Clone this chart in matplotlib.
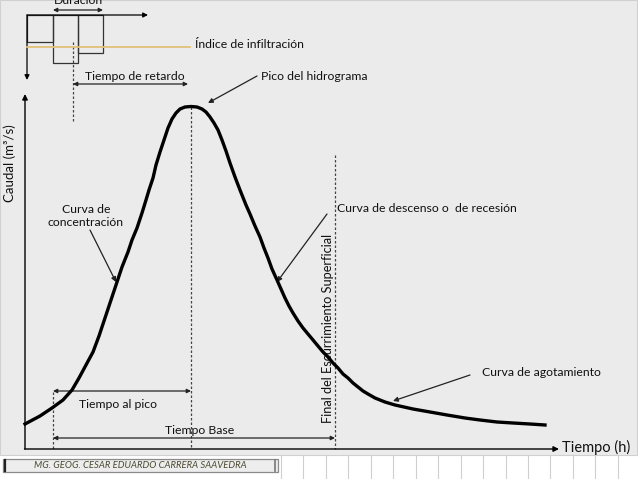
import matplotlib.pyplot as plt
from matplotlib.patches import Rectangle, FancyArrowPatch

# Diagram drawn in image pixel coordinates (x right, y down).
W, H = 638, 479

# Hydrograph curve points (x, y).
curve_x = [25, 40, 52, 63, 72, 79, 86, 93, 99, 105, 111, 117, 122, 128, 132, 137,
           142, 146, 149, 153, 156, 160, 164, 168, 172, 176, 180, 185, 191, 197,
           202, 206, 210, 214, 218, 222, 226, 230, 235, 240, 246, 250, 255, 260,
           264, 268, 272, 277, 281, 285, 289, 293, 298, 303, 308, 313, 318, 323,
           328, 333, 338, 343, 348, 353, 358, 363, 368, 375, 385, 395, 413, 430,
           447, 465, 480, 497, 513, 530, 545]
curve_y = [424, 416, 408, 400, 390, 378, 365, 352, 336, 318, 300, 282, 267, 252,
           240, 228, 213, 200, 190, 178, 165, 152, 140, 128, 119, 113, 109, 107,
           106.5, 107, 109, 112, 117, 123, 130, 140, 151, 163, 177, 190, 205, 214,
           226, 237, 248, 258, 269, 280, 289, 298, 306, 313, 321, 328, 334, 340,
           346, 352, 357, 363, 368, 374, 378, 383, 387, 391, 394, 398, 402, 405,
           409, 412, 415, 418, 420, 422, 423, 424, 425]

# Hyetograph bars: left, right, bottom (top is the rain axis line).
bar_left = [27, 53, 78]
bar_right = [53, 78, 103]
bar_bottom = [42, 63, 53]

# Dotted guide lines: x, y_top, y_bottom
guide_x = [73, 53, 191, 335]
guide_top = [42, 392, 107, 155]
guide_bottom = [122, 449, 449, 449]

# Double arrows: label, x0, x1, y
span_labels = ["Duración", "Tiempo de retardo", "Tiempo al pico", "Tiempo Base"]
span_x0 = [53, 73, 53, 53]
span_x1 = [103, 188, 191, 335]
span_y = [10, 84, 391, 438]
span_text_xy = [(78, 0), (135, 76), (118, 404), (200, 431)]

# Annotations with a single arrow: text, text position, arrow tail, arrow head
notes = ["Pico del hidrograma", "Curva de\nconcentración",
         "Curva de descenso o  de recesión", "Curva de agotamiento"]
note_xy = [(261, 76), (86, 216), (337, 208), (482, 373)]
note_ha = ["left", "center", "left", "left"]
tail_xy = [(257, 76), (90, 230), (327, 214), (470, 375)]
head_xy = [(208, 103), (116, 282), (277, 282), (393, 401)]

# Bottom footer grid lines
footer_lines = [281 + 22.45 * i for i in range(17)]

fig = plt.figure(figsize=(W / 100, H / 100), dpi=100)
ax = fig.add_axes([0, 0, 1, 1])
ax.set_xlim(0, W)
ax.set_ylim(H, 0)
ax.axis("off")
fig.patch.set_facecolor("white")

plt.rcParams["font.family"] = ["Lato", "DejaVu Sans"]
TXT = "#111111"
FS = 8.8

# gray slide background
ax.add_patch(Rectangle((0, 0), 637, 455, facecolor="#ebebeb", edgecolor="#d0d0d0", lw=0.8, zorder=0))

# footer grid
for fx in footer_lines:
    ax.plot([fx, fx], [455, 479], color="#cfcfcf", lw=0.8, zorder=0)
ax.add_patch(Rectangle((3, 459), 275, 13, facecolor="#ededed", edgecolor="#8a8a8a", lw=0.9, zorder=1))
ax.plot([5, 5], [460, 471], color="#222222", lw=1.6, zorder=2)
ax.plot([275, 275], [460, 471], color="#777777", lw=1.2, zorder=2)
ax.text(140, 465.5, "MG. GEOG. CESAR EDUARDO CARRERA SAAVEDRA", fontsize=6.8, style="italic",
        color="#4a4a30", ha="center", va="center", zorder=3)

# main axes
ax.annotate("", xy=(25, 94), xytext=(25, 449),
            arrowprops=dict(arrowstyle="-|>", color="black", lw=1.0, mutation_scale=8, shrinkA=0, shrinkB=0))
ax.annotate("", xy=(559, 449), xytext=(24.5, 449),
            arrowprops=dict(arrowstyle="-|>", color="black", lw=1.0, mutation_scale=8, shrinkA=0, shrinkB=0))
ax.text(10, 163, "Caudal (m³/s)", rotation=90, fontsize=9.5, color=TXT, ha="center", va="center")
ax.text(562, 447, "Tiempo (h)", fontsize=10.5, color=TXT, ha="left", va="center")

# hyetograph
ax.annotate("", xy=(148, 15), xytext=(27, 15),
            arrowprops=dict(arrowstyle="-|>", color="black", lw=0.9, mutation_scale=7, shrinkA=0, shrinkB=0))
ax.annotate("", xy=(27, 80), xytext=(27, 15),
            arrowprops=dict(arrowstyle="-|>", color="black", lw=0.9, mutation_scale=7, shrinkA=0, shrinkB=0))
for l, r, b in zip(bar_left, bar_right, bar_bottom):
    ax.add_patch(Rectangle((l, 15), r - l, b - 15, fill=False, edgecolor="#333333", lw=0.9, zorder=2))
ax.plot([27, 190], [47, 47], color="#e2c27a", lw=1.3, zorder=3)
ax.text(195, 44, "Índice de infiltración", fontsize=FS, color=TXT, ha="left", va="center")

# dotted guides
for gx, gt, gb in zip(guide_x, guide_top, guide_bottom):
    ax.plot([gx, gx], [gt, gb], color="#444444", lw=0.9, ls=(0, (2, 1.6)), zorder=2)

# vertical label
ax.text(328, 328, "Final del Escurrimiento Superficial", rotation=90, fontsize=9.2, color=TXT,
        ha="center", va="center", zorder=2)

# spans
for lab, x0, x1, y, (tx, ty) in zip(span_labels, span_x0, span_x1, span_y, span_text_xy):
    ax.annotate("", xy=(x1, y), xytext=(x0, y),
                arrowprops=dict(arrowstyle="<|-|>", color="#222222", lw=0.9, mutation_scale=6,
                                shrinkA=0, shrinkB=0), zorder=3)
    ax.text(tx, ty, lab, fontsize=FS, color=TXT, ha="center", va="center", zorder=3)

# notes
for t, (tx, ty), ha, tl, hd in zip(notes, note_xy, note_ha, tail_xy, head_xy):
    ax.text(tx, ty, t, fontsize=FS, color=TXT, ha=ha, va="center", linespacing=1.15, zorder=3)
    ax.add_patch(FancyArrowPatch(tl, hd, arrowstyle="-|>", color="#222222", lw=0.9,
                                 mutation_scale=7, shrinkA=0, shrinkB=0, zorder=3))

# hydrograph
ax.plot(curve_x, curve_y, color="black", lw=2.4, solid_joinstyle="round", zorder=4)

fig.savefig("out.png", dpi=100, facecolor="white")
